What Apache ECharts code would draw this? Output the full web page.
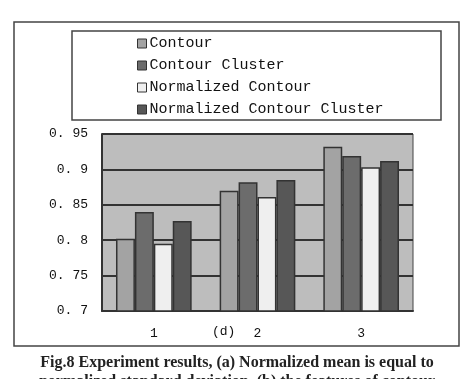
<!DOCTYPE html>
<html><head><meta charset="utf-8">
<script src="https://cdn.jsdelivr.net/npm/echarts@6/dist/echarts.min.js"></script>
<style>html,body{margin:0;padding:0;background:#fff}#c{width:474px;height:379px}</style>
</head><body><div id="c"></div>
<script>
const categories = ['1', '2', '3'];
const seriesNames = ['Contour', 'Contour Cluster', 'Normalized Contour', 'Normalized Contour Cluster'];
const contour = [0.802, 0.870, 0.932];
const contourCluster = [0.840, 0.882, 0.919];
const normContour = [0.795, 0.861, 0.903];
const normContourCluster = [0.827, 0.885, 0.912];
const yTicks = ['0. 7', '0. 75', '0. 8', '0. 85', '0. 9', '0. 95'];

const colors = ['#a3a3a3', '#6c6c6c', '#efefef', '#575757'];
const values = [contour, contourCluster, normContour, normContourCluster];
const chart = echarts.init(document.getElementById('c'));
chart.setOption({
  animation: false,
  backgroundColor: '#fff',
  grid: { left: 102, right: 61, top: 134, bottom: 68, show: true, backgroundColor: '#bdbdbd', borderColor: '#444', borderWidth: 1 },
  legend: {
    orient: 'vertical', left: 132, top: 31, itemWidth: 9, itemHeight: 9, itemGap: 7,
    icon: 'rect',
    textStyle: { fontFamily: 'Liberation Mono', fontSize: 15, color: '#111', padding: [0,0,0,-2] },
    data: seriesNames.map((n, i) => ({ name: n, itemStyle: { color: colors[i], borderColor: '#333', borderWidth: 1 } }))
  },
  xAxis: {
    type: 'category', data: categories,
    axisLine: { show: true, lineStyle: { color: '#333', width: 2 } },
    axisTick: { show: false },
    axisLabel: { margin: 16, fontFamily: 'Liberation Mono', fontSize: 13, color: '#111' }
  },
  yAxis: {
    type: 'value', min: 0.7, max: 0.95, interval: 0.05,
    axisLine: { show: true, lineStyle: { color: '#333', width: 2 } },
    axisTick: { show: false },
    splitLine: { show: true, lineStyle: { color: '#333', width: 2 } },
    axisLabel: {
      margin: 14, fontFamily: 'Liberation Mono', fontSize: 13, color: '#111',
      formatter: v => yTicks[Math.round((v - 0.7) / 0.05)]
    }
  },
  series: values.map((d, i) => ({
    name: seriesNames[i], type: 'bar', data: d,
    barGap: '0%', barCategoryGap: '27%',
    itemStyle: { color: colors[i], borderColor: '#333', borderWidth: 1.5 }
  })),
  graphic: [
    { type: 'rect', shape: { x: 14, y: 22, width: 445, height: 324 }, style: { fill: 'none', stroke: '#444', lineWidth: 1.5 }, z: -1 },
    { type: 'rect', shape: { x: 72, y: 31, width: 369, height: 89 }, style: { fill: 'none', stroke: '#444', lineWidth: 1.5 } },
    { type: 'text', left: 212, top: 325, style: { text: '(d)', font: '13px "Liberation Mono"', fill: '#111' } },
    { type: 'text', x: 237, y: 363, style: { text: 'Fig.8 Experiment results, (a) Normalized mean is equal to', font: 'bold 16px "Liberation Serif"', fill: '#222', align: 'center', verticalAlign: 'middle' } },
    { type: 'text', x: 237, y: 382, style: { text: 'normalized standard deviation, (b) the features of contour', font: 'bold 16px "Liberation Serif"', fill: '#222', align: 'center', verticalAlign: 'middle' } }
  ]
});
</script></body></html>
